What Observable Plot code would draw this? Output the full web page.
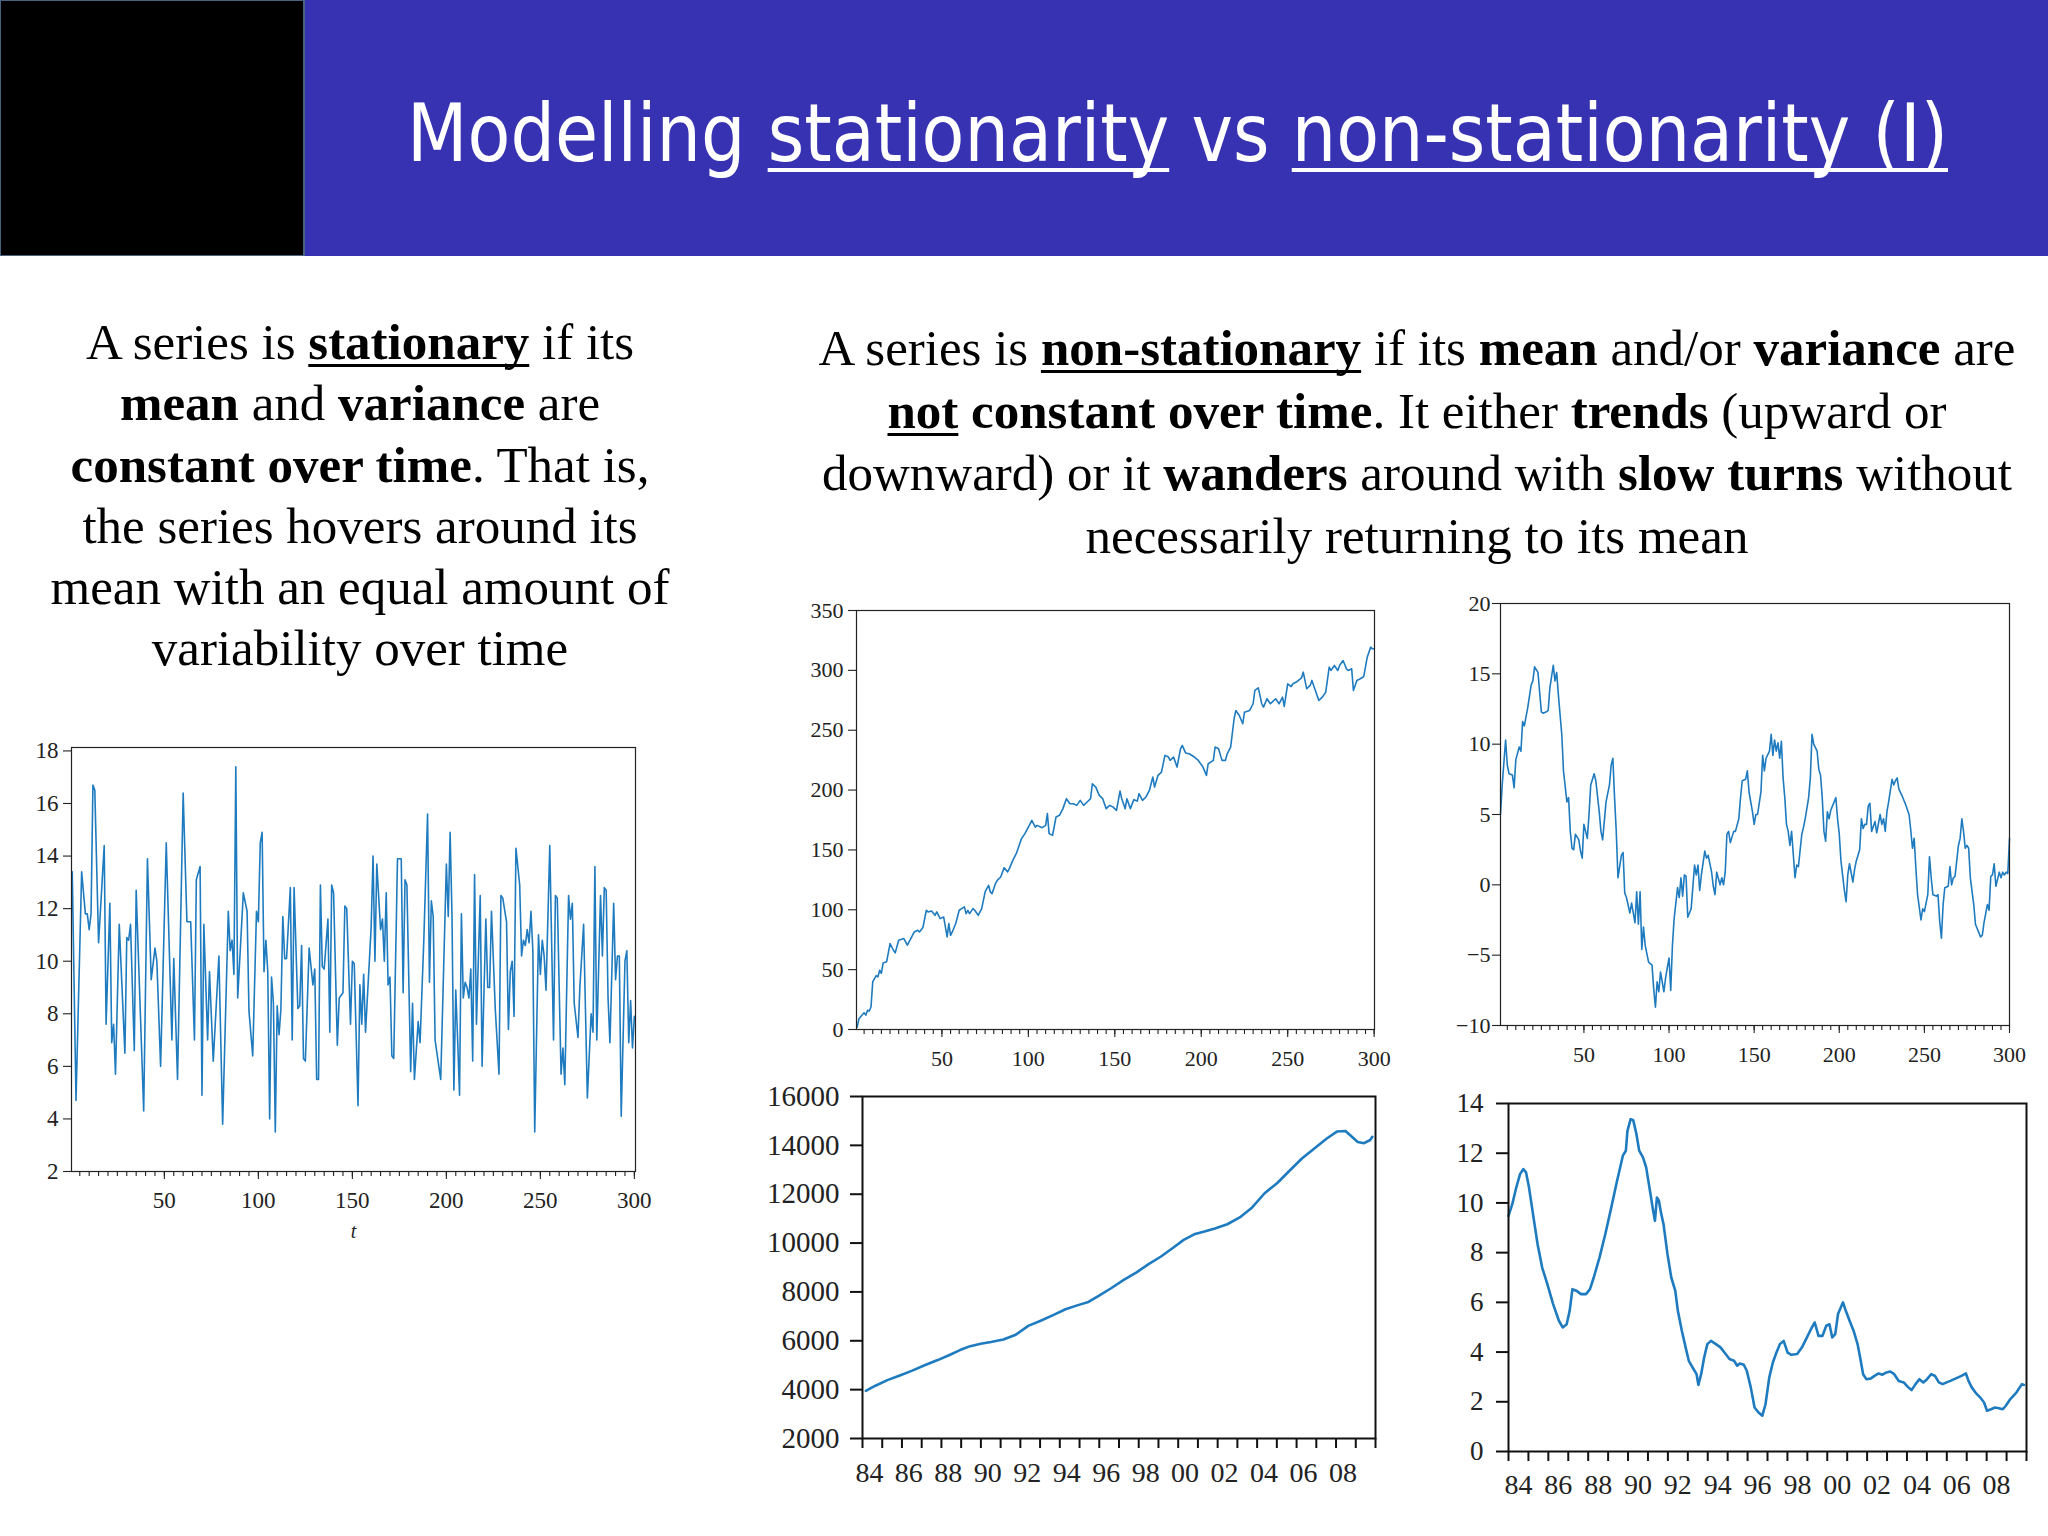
<!DOCTYPE html>
<html><head><meta charset="utf-8">
<script src="https://cdn.jsdelivr.net/npm/d3@7"></script>
<script src="https://cdn.jsdelivr.net/npm/@observablehq/plot@0.6"></script>
<style>
html,body{margin:0;padding:0;background:#fff;}
body{width:2048px;height:1536px;position:relative;overflow:hidden;}
#header{position:absolute;left:0;top:0;width:2048px;height:256px;background:#3632b2;}
#logo{position:absolute;left:0;top:0;width:302px;height:254px;background:#000;border:1px solid #46627f;border-right:2px solid #46627f;}
#title{position:absolute;font-family:"DejaVu Sans",sans-serif;font-size:81px;color:#fff;white-space:nowrap;transform-origin:0 0;}
.tu{text-decoration:underline;text-decoration-thickness:4px;text-underline-offset:7px;text-decoration-skip-ink:none;}
.line{position:absolute;white-space:nowrap;font-family:"Liberation Serif","Times New Roman",serif;font-size:51px;color:#000;}
.u{text-decoration:underline;text-decoration-thickness:3px;text-underline-offset:5px;text-decoration-skip-ink:none;}
svg.chart{position:absolute;}
svg.chart text{font-family:"Liberation Serif","Times New Roman",serif !important;}
</style></head>
<body>
<div id="header"><div id="logo"></div></div>
<div id="title">Modelling <span class="tu">stationarity</span> vs <span class="tu">non-stationarity (I)</span></div>

<div class="line L">A series is <b class="u">stationary</b> if its</div>
<div class="line L"><b>mean</b> and <b>variance</b> are</div>
<div class="line L"><b>constant over time</b>. That is,</div>
<div class="line L">the series hovers around its</div>
<div class="line L">mean with an equal amount of</div>
<div class="line L">variability over time</div>

<div class="line R">A series is <b class="u">non-stationary</b> if its <b>mean</b> and/or <b>variance</b> are</div>
<div class="line R"><b><span class="u">not</span> constant over time</b>. It either <b>trends</b> (upward or</div>
<div class="line R">downward) or it <b>wanders</b> around with <b>slow turns</b> without</div>
<div class="line R">necessarily returning to its mean</div>

<script>
// ---------- DATA ----------
// Stationary series (t, value)
const stationaryT = [
 1,3,6,8,9,10,11,12,13,15,
 18,19,21,22,23,24,26,29,30,31,
 32,34,35,39,41,43,45,46,48,51,
 54,55,57,60,62,64,66,67,69,70,
 71,73,74,76,79,81,84,85,86,87,
 88,89,92,94,95,97,99,100,101,102,
 103,104,105,106,107,108,109,110,111,112,
 113,114,115,117,118,119,121,122,123,124,
 125,127,129,130,131,132,133,134,135,137,
 138,139,140,142,143,145,146,147,149,150,
 151,153,154,155,156,157,160,161,162,163,
 165,166,167,168,169,170,171,172,174,176,
 177,178,179,181,182,183,185,186,188,190,
 191,192,193,194,197,200,201,202,203,204,
 205,206,207,208,209,210,211,212,213,214,
 215,216,218,219,221,222,223,224,226,228,
 229,230,232,233,234,235,236,237,239,240,
 241,242,243,244,245,246,247,249,250,251,
 252,253,255,257,258,259,261,262,263,265,
 266,267,268,270,271,273,275,277,278,279,
 280,282,283,284,285,286,287,289,290,291,
 292,293,295,296,297,298,299,300];
const stationaryV = [
 13.4,4.7,13.4,11.8,11.8,11.2,11.8,16.7,16.5,10.7,
 14.4,7.6,12.2,6.9,7.6,5.7,11.4,6.5,10.9,10.8,
 11.4,6.6,12.7,4.3,13.9,9.3,10.5,10.0,6.0,14.5,
 7.0,10.1,5.5,16.4,11.5,11.5,7.0,13.1,13.6,4.9,
 11.4,7.0,9.6,6.2,10.2,3.8,11.9,10.4,10.8,9.5,
 17.4,8.6,12.6,11.9,8.1,6.4,11.9,11.5,14.5,14.9,
 9.6,10.8,9.6,4.0,9.4,8.4,3.5,8.3,7.2,8.2,
 11.7,10.1,10.1,12.8,7.0,12.8,8.2,8.3,10.6,6.3,
 6.2,10.5,9.1,9.7,5.5,5.5,12.9,9.8,9.7,11.6,
 7.3,12.9,12.6,6.8,8.6,8.8,12.1,12.0,7.6,10.0,
 9.9,4.5,9.1,7.6,9.5,7.3,11.3,14.0,10.0,13.7,
 11.2,11.6,10.0,12.6,9.1,9.4,6.4,6.3,13.9,13.9,
 8.8,13.1,12.9,5.8,8.4,5.5,7.7,6.9,10.8,15.6,
 9.2,12.3,11.7,7.0,5.5,13.7,11.7,14.9,11.7,5.1,
 8.9,7.0,4.9,11.8,8.6,9.2,9.0,8.6,9.7,6.2,
 13.3,7.6,12.5,6.0,11.6,9.0,9.0,11.9,8.2,5.7,
 12.5,12.4,11.5,7.4,9.6,10.0,7.9,14.3,12.9,10.2,
 10.8,10.6,11.2,10.7,11.9,10.4,3.5,11.0,9.5,10.8,
 10.2,8.9,14.4,7.0,12.5,12.4,5.7,6.7,5.3,12.5,
 11.6,12.2,8.4,7.1,9.0,11.4,4.8,8.0,7.3,13.6,
 7.0,12.5,10.2,12.8,12.7,8.6,6.9,12.2,9.3,10.2,
 10.2,4.1,10.0,10.4,6.9,8.5,6.7,7.9];
const stationaryYTicks = [2,4,6,8,10,12,14,16,18];

// Trending series
const trendT = [
 1,2,5,6,7,8,9,10,12,13,
 14,15,16,18,19,20,22,23,25,28,
 29,30,32,34,36,37,39,41,42,44,
 46,47,49,51,53,54,55,56,58,60,
 63,64,65,66,68,69,71,73,75,77,
 78,79,81,82,84,86,88,89,91,93,
 95,96,98,100,102,104,105,108,110,111,
 112,114,116,118,120,122,124,126,128,130,
 132,134,136,137,139,141,143,145,147,149,
 151,153,154,156,157,159,161,163,164,166,
 168,170,172,173,175,177,179,181,182,184,
 186,188,189,191,193,196,198,201,203,204,
 207,208,210,212,214,215,217,219,220,222,
 224,225,228,230,231,233,235,236,238,240,
 241,243,245,247,248,250,252,253,255,258,
 259,261,263,264,266,268,270,272,274,275,
 277,279,280,282,284,285,287,288,290,292,
 294,296,298,299,300];
const trendV = [
 2,9,14,12,16,15.5,19,40,45,44,
 49.5,47,55.6,56.5,64,71.8,66.2,64,74.6,76,
 73.2,70.4,76,81.5,82.9,81.5,85.1,99.6,98.2,99,
 95.4,98.2,92.6,94,77.3,88.5,78.7,81.5,88.5,99.6,
 102.4,96.8,99.6,96.8,101,99.6,95.4,101,114.9,120.5,
 114.9,113.5,121.9,124.6,127.4,135.2,131.6,134.4,141.3,146.9,
 155.2,159.4,163.6,169.1,174.7,169.1,170.5,168.6,170.5,180.3,
 163.6,162.2,177.5,178.9,184.5,192.8,188.6,188.6,187.2,191.4,
 187.2,190,192.8,205.3,202.5,195.6,192.8,184.5,187.2,185.8,
 183,199.2,192.8,184.5,192.8,184.5,192,190.8,197,191.4,
 194.2,199.7,210.9,202.5,212.3,215,229,227.6,224.8,227.6,
 219.2,234.5,237.3,230.9,230.3,227.6,225.3,219.2,212.3,222,
 224.8,235.9,234.5,224.8,224.8,230.3,235.9,259.6,266.5,262.3,
 255.4,265.1,266.5,272.1,283.2,285.4,272.1,269.3,276.3,272.1,
 273.5,276.3,272.1,277.6,269.9,288.8,286.5,288.8,290.2,293.8,
 298.5,284.6,287.4,291.6,283.2,274.9,277.6,281.8,302.7,299.9,
 304.1,299.9,304.1,308.2,301.3,299.9,301.3,283.2,291.6,293,
 294.9,311,319.4,318,318];
const trendYTicks = [0,50,100,150,200,250,300,350];

// Wandering series
const wanderT = [
 1,2,4,5,6,8,9,10,12,13,
 14,15,17,19,20,21,23,25,26,28,
 29,30,32,33,34,35,37,38,40,41,
 42,43,44,45,47,48,49,50,52,53,
 54,56,57,59,60,61,63,65,66,67,
 68,69,70,72,73,74,75,77,78,80,
 81,82,83,84,85,86,88,90,91,92,
 93,94,95,97,98,100,101,102,103,105,
 106,107,108,109,110,111,113,115,116,117,
 118,119,121,122,123,125,126,127,128,130,
 131,132,133,134,135,136,138,139,141,142,
 143,145,146,147,149,150,151,152,154,155,
 156,157,159,160,161,162,163,164,165,166,
 167,168,169,170,171,172,174,175,176,178,
 179,180,182,183,184,185,187,188,189,190,
 191,192,193,194,195,197,198,199,200,201,
 203,204,205,206,208,209,210,212,213,214,
 215,216,217,218,219,221,222,224,225,226,
 227,228,229,231,232,233,234,235,237,238,
 239,241,242,243,244,245,246,248,249,250,
 252,253,254,255,257,258,259,260,261,262,
 264,265,266,267,268,270,271,272,273,274,
 275,276,277,279,280,281,283,284,285,287,
 288,289,290,291,292,294,295,296,297,298,
 299,300];
const wanderV = [
 5.0,7.1,10.3,8.5,7.9,7.8,6.9,8.9,9.8,9.5,
 11.6,11.3,12.6,14.2,14.5,15.5,15.1,12.3,12.2,12.3,
 12.4,14.0,15.6,14.5,15.1,13.5,10.7,8.1,5.9,6.2,
 3.8,2.6,2.5,3.6,3.2,2.4,1.9,4.3,3.3,5.0,
 7.1,7.9,7.4,5.2,3.8,3.2,5.9,7.1,8.5,9.0,
 6.2,3.8,0.5,2.1,2.3,-0.6,-0.9,-2.0,-1.3,-2.7,
 -0.5,-2.8,-0.5,-4.6,-3.0,-4.3,-5.5,-5.7,-7.4,-8.7,
 -6.9,-7.6,-6.2,-7.6,-6.6,-5.2,-7.5,-4.3,-2.4,-0.2,
 -0.9,0.5,-0.8,0.7,0.6,-2.3,-1.7,1.4,0.7,1.4,
 -0.4,0.7,2.4,1.9,2.1,0.9,-0.1,-0.7,0.9,0.0,
 0.5,0.0,0.9,3.6,3.8,3.0,3.8,3.8,4.7,6.2,
 7.4,7.5,8.1,6.6,5.2,4.3,5.0,5.0,6.6,9.2,
 8.1,9.0,9.5,10.7,9.2,10.3,9.5,10.1,9.0,10.2,
 7.6,6.2,4.3,3.8,2.8,3.8,0.5,1.4,1.3,3.6,
 4.1,4.7,6.2,7.6,10.7,10.0,9.5,8.2,7.8,6.2,
 3.8,3.1,5.2,4.7,5.3,5.9,6.2,4.7,3.6,1.7,
 -0.4,-1.2,0.7,1.5,0.2,1.1,1.7,2.5,4.7,4.0,
 4.3,4.3,5.6,5.8,3.8,4.5,3.7,5.0,4.3,4.7,
 3.8,5.2,5.9,7.5,7.1,7.4,7.6,6.8,6.3,6.0,
 5.7,5.0,3.9,2.6,3.3,1.2,-0.7,-2.5,-1.7,-1.9,
 -0.7,2.0,0.5,-0.7,-0.8,-0.7,-2.6,-3.8,-1.4,-0.2,
 -0.1,1.3,0.0,0.5,0.6,2.8,3.3,4.7,3.8,2.6,
 2.8,2.6,0.5,-1.4,-2.8,-3.1,-3.7,-3.6,-2.7,-1.4,
 -1.8,0.6,0.7,1.5,-0.1,0.9,0.5,0.9,0.7,0.9,
 0.8,3.3];
const wanderYTicks = [-10,-5,0,5,10,15,20];

const indexXTicks = [50,100,150,200,250,300];

// GDP-like series (year, level)
const gdpYear = [
 1984.17,1984.63,1985.26,1985.89,1986.52,1987.15,1987.78,1988.41,1988.94,1989.46,
 1989.99,1990.51,1991.14,1991.77,1992.4,1993.03,1993.66,1994.29,1994.92,1995.45,
 1995.97,1996.6,1997.24,1997.87,1998.5,1999.13,1999.76,2000.28,2000.81,2001.33,
 2001.86,2002.49,2003.12,2003.75,2004.38,2005.01,2005.64,2006.27,2006.9,2007.53,
 2008.06,2008.48,2008.79,2009.1,2009.42,2009.73,2009.84];
const gdpValue = [
 3950,4150,4390,4580,4780,5000,5200,5420,5620,5780,
 5880,5950,6050,6250,6610,6820,7050,7290,7460,7590,
 7840,8150,8490,8790,9140,9450,9820,10130,10360,10470,
 10600,10770,11050,11460,12040,12450,12960,13460,13870,14280,
 14570,14590,14360,14140,14090,14220,14350];
const gdpYTicks = [2000,4000,6000,8000,10000,12000,14000,16000];

// Interest-rate-like series (year, percent)
const rateYear = [
 1984.0,1984.19,1984.39,1984.58,1984.74,1984.88,1985.03,1985.23,1985.46,1985.69,
 1985.95,1986.24,1986.53,1986.72,1986.92,1987.07,1987.21,1987.4,1987.64,1987.89,
 1988.09,1988.28,1988.57,1988.86,1989.16,1989.45,1989.74,1989.89,1989.97,1990.13,
 1990.26,1990.42,1990.56,1990.75,1990.91,1991.1,1991.26,1991.35,1991.45,1991.55,
 1991.65,1991.78,1991.98,1992.17,1992.37,1992.5,1992.7,1992.89,1993.05,1993.24,
 1993.44,1993.53,1993.67,1993.82,1993.98,1994.16,1994.41,1994.64,1994.9,1995.09,
 1995.32,1995.48,1995.61,1995.81,1995.96,1996.16,1996.35,1996.55,1996.74,1996.9,
 1997.09,1997.27,1997.42,1997.62,1997.81,1998.01,1998.2,1998.49,1998.73,1998.98,
 1999.18,1999.37,1999.56,1999.76,1999.95,2000.11,2000.25,2000.4,2000.54,2000.79,
 2000.93,2001.12,2001.32,2001.52,2001.65,2001.8,2001.96,2002.19,2002.39,2002.58,
 2002.77,2002.97,2003.16,2003.36,2003.59,2003.84,2004.04,2004.23,2004.43,2004.62,
 2004.82,2005.01,2005.21,2005.4,2005.6,2005.79,2005.99,2006.18,2006.37,2006.57,
 2006.76,2006.96,2007.09,2007.25,2007.44,2007.68,2007.87,2008.02,2008.22,2008.42,
 2008.61,2008.81,2008.96,2009.19,2009.49,2009.77,2009.87];
const rateValue = [
 9.48,9.95,10.62,11.16,11.36,11.23,10.62,9.55,8.34,7.40,
 6.73,5.93,5.26,4.99,5.12,5.66,6.53,6.47,6.33,6.33,
 6.53,7.00,7.81,8.75,9.82,10.89,11.90,12.10,12.90,13.37,
 13.33,12.77,12.10,11.83,11.43,10.49,9.68,9.28,10.22,10.09,
 9.62,9.15,7.94,7.00,6.47,5.66,4.86,4.19,3.65,3.38,
 3.11,2.68,3.11,3.78,4.32,4.45,4.32,4.19,3.92,3.72,
 3.65,3.45,3.54,3.49,3.25,2.58,1.77,1.57,1.44,1.90,
 2.98,3.58,3.92,4.32,4.45,3.98,3.89,3.92,4.19,4.59,
 4.92,5.19,4.65,4.65,5.06,5.12,4.59,4.72,5.53,6.00,
 5.66,5.26,4.86,4.32,3.78,3.11,2.91,2.94,3.05,3.14,
 3.09,3.18,3.22,3.11,2.84,2.78,2.60,2.47,2.71,2.91,
 2.78,2.91,3.11,3.05,2.78,2.71,2.78,2.84,2.91,2.98,
 3.05,3.14,2.84,2.58,2.37,2.17,1.97,1.64,1.70,1.77,
 1.74,1.70,1.84,2.11,2.37,2.71,2.68];
const rateYTicks = [0,2,4,6,8,10,12,14];

const yearTicks = [1984,1985,1986,1987,1988,1989,1990,1991,1992,1993,1994,1995,1996,1997,1998,1999,2000,2001,2002,2003,2004,2005,2006,2007,2008,2009,2010];
const yearLabelYears = [1984,1986,1988,1990,1992,1994,1996,1998,2000,2002,2004,2006,2008];
const yearLabels = ["84","86","88","90","92","94","96","98","00","02","04","06","08"];

// ---------- LAYOUT ----------
const BLUE = "#1f7bbf";
const FONT = "Liberation Serif, Times New Roman, serif";
const pairs = (xs, ys) => xs.map((x, i) => ({x, y: ys[i]}));
const minorTicks = d3.range(5, 301, 5);

function put(svg, left, top) {
  svg.classList.add("chart");
  svg.setAttribute("font-family", FONT);
  svg.style.fontFamily = FONT;
  svg.style.color = "#222";
  svg.style.left = left + "px";
  svg.style.top = top + "px";
  svg.style.position = "absolute";
  svg.style.background = "transparent";
  svg.style.maxWidth = "none";
  svg.querySelectorAll("text").forEach(t => t.setAttribute("font-family", FONT));
  document.body.appendChild(svg);
}

function indexChart({T, V, yDomain, yTicks, xDomain, w, h, ml, mr, mt, mb, yPad, xPad, fs, tLabel}) {
  const marks = [
    Plot.axisX({ticks: minorTicks, tickSize: 5, fill: null, label: null, strokeWidth: 1.1}),
    Plot.axisX({ticks: indexXTicks, tickSize: 8, tickPadding: xPad, label: null, strokeWidth: 1.1, fontSize: fs, fontFamily: FONT, tickFormat: d => String(d)}),
    Plot.axisY({ticks: yTicks, tickSize: 8, tickPadding: yPad, label: null, strokeWidth: 1.1, fontSize: fs, fontFamily: FONT}),
    Plot.line(pairs(T, V), {x: "x", y: "y", stroke: BLUE, strokeWidth: 1.6}),
    Plot.frame({stroke: "#222", strokeWidth: 1.2})
  ];
  if (tLabel) marks.push(Plot.text([tLabel], {text: d => d, frameAnchor: "bottom", dy: 66, fontStyle: "italic", fontSize: 20, fontFamily: FONT}));
  return Plot.plot({
    width: w, height: h, marginLeft: ml, marginRight: mr, marginTop: mt, marginBottom: mb,
    style: {fontFamily: FONT, fontSize: fs + "px", color: "#222"},
    x: {domain: xDomain},
    y: {domain: yDomain},
    marks
  });
}

// Chart 1: stationary  (frame 71..635 x 747..1171)
put(indexChart({T: stationaryT, V: stationaryV, yDomain: [2, 18.13], yTicks: stationaryYTicks,
  xDomain: [0.6, 300.6], w: 679, h: 524, ml: 70, mr: 45, mt: 20, mb: 80, yPad: 5, xPad: 12, fs: 23, tLabel: "t"}), 1, 727);

// Chart 2: trend (frame 856..1374 x 610..1029)
put(indexChart({T: trendT, V: trendV, yDomain: [0, 350], yTicks: trendYTicks,
  xDomain: [0.6, 300.2], w: 613, h: 494, ml: 70, mr: 25, mt: 25, mb: 50, yPad: 5, xPad: 13, fs: 22}), 786, 585);

// Chart 3: wander (frame 1500..2009 x 603..1025)
put(indexChart({T: wanderT, V: wanderV, yDomain: [-10, 20], yTicks: wanderYTicks,
  xDomain: [1, 300], w: 609, h: 497, ml: 70, mr: 30, mt: 25, mb: 50, yPad: 2, xPad: 13, fs: 22}), 1430, 578);

function yearChart({Y, V, yDomain, yTicks, w, h, ml, mr, mt, mb, yPad, yFs, labelShift, labelDy}) {
  return Plot.plot({
    width: w, height: h, marginLeft: ml, marginRight: mr, marginTop: mt, marginBottom: mb,
    style: {fontFamily: FONT, fontSize: "28px", color: "#222"},
    x: {domain: [1984, 2010]},
    y: {domain: yDomain},
    marks: [
      Plot.axisX({ticks: yearTicks, tickSize: 10, fill: null, label: null, strokeWidth: 2, stroke: "#111"}),
      Plot.axisY({ticks: yTicks, tickSize: 12, tickPadding: yPad, label: null, strokeWidth: 2, stroke: "#111", fontSize: yFs, fontFamily: FONT, tickFormat: d => String(d)}),
      Plot.text(yearLabelYears, {x: d => d + labelShift, text: (d, i) => yearLabels[i], frameAnchor: "bottom", lineAnchor: "top", dy: labelDy, fontSize: 28, fontFamily: FONT}),
      Plot.line(pairs(Y, V), {x: "x", y: "y", stroke: BLUE, strokeWidth: 2.6}),
      Plot.frame({stroke: "#111", strokeWidth: 2})
    ]
  });
}

// Chart 4: GDP (frame 862..1375 x 1096..1438)
put(yearChart({Y: gdpYear, V: gdpValue, yDomain: [2000, 16000], yTicks: gdpYTicks,
  w: 628, h: 452, ml: 100, mr: 15, mt: 30, mb: 80, yPad: 11, yFs: 29, labelShift: 0.35, labelDy: 24}), 762, 1066);

// Chart 5: rate (frame 1508..2026 x 1103..1451)
put(yearChart({Y: rateYear, V: rateValue, yDomain: [0, 14], yTicks: rateYTicks,
  w: 608, h: 458, ml: 75, mr: 15, mt: 30, mb: 80, yPad: 13, yFs: 27, labelShift: 0.5, labelDy: 23}), 1433, 1073);

// ---------- TEXT PLACEMENT ----------
function baselineOffset(el) {
  const probe = document.createElement("span");
  probe.style.cssText = "display:inline-block;width:0;height:0;vertical-align:baseline;";
  el.appendChild(probe);
  el.style.left = "0px"; el.style.top = "0px";
  const r = el.getBoundingClientRect();
  const off = probe.getBoundingClientRect().top - r.top;
  probe.remove();
  return {off, width: r.width};
}
function centerLine(el, cx, base) {
  const {off, width} = baselineOffset(el);
  el.style.left = (cx - width / 2) + "px";
  el.style.top = (base - off) + "px";
}
const leftBases = [359, 420, 482, 543, 604, 665];
document.querySelectorAll(".line.L").forEach((el, i) => centerLine(el, 360, leftBases[i]));
const rightBases = [365, 428, 490, 553];
document.querySelectorAll(".line.R").forEach((el, i) => centerLine(el, 1417, rightBases[i]));

const title = document.getElementById("title");
{
  const {off, width} = baselineOffset(title);
  title.style.left = "407px";
  title.style.top = (161 - off) + "px";
  title.style.transform = `scaleX(${1541 / width})`;
}
</script>
</body></html>
